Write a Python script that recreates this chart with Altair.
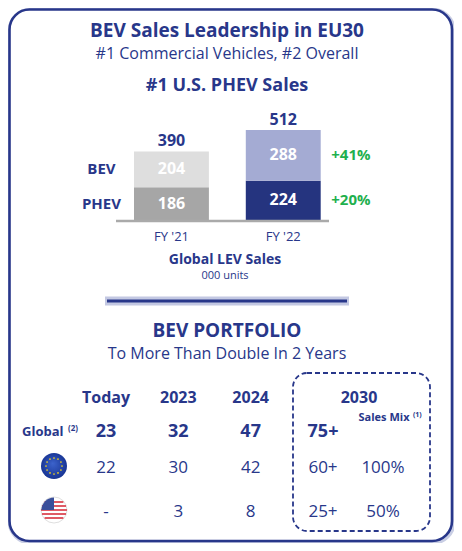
import altair as alt
import numpy as np
import pandas as pd

NAVY = "#28378a"
GREEN = "#1fb04e"
GRAY = "#a6a6a6"
FONT = "Open Sans"

# ---- data ----
years = ["FY '21", "FY '22"]
phev = [186, 224]
bev = [204, 288]
totals = [390, 512]

cols = ["Today", "2023", "2024", "2030"]
global_row = ["23", "32", "47", "75+"]
eu_row = ["22", "30", "42", "60+"]
us_row = ["-", "3", "8", "25+"]
mix_eu = "100%"
mix_us = "50%"

title = "BEV Sales Leadership in EU30"
subtitle = "#1 Commercial Vehicles, #2 Overall"
headline = "#1 U.S. PHEV Sales"
bar_title = "Global LEV Sales"
bar_units = "000 units"
port_title = "BEV PORTFOLIO"
port_sub = "To More Than Double In 2 Years"

ONE = pd.DataFrame({"k": [0]})

bar_df = pd.DataFrame({
    "year": years * 2,
    "type": ["PHEV"] * 2 + ["BEV"] * 2,
    "value": phev + bev,
    "order": [0, 0, 1, 1],
})
bar_df["key"] = bar_df["year"] + " " + bar_df["type"]
growth = {"PHEV": phev[1] / phev[0] - 1, "BEV": bev[1] / bev[0] - 1}
bar_df["growth"] = bar_df["type"].map(lambda t: f"+{round(growth[t] * 100)}%")
tot_df = pd.DataFrame({"year": years, "total": totals})

xb = alt.Scale(type="band", domain=years, range=[126, 312.7], paddingInner=0.33, paddingOuter=0)
yb = alt.Scale(domain=[0, 512], range=[212, 122], nice=False)
color_keys = ["FY '21 PHEV", "FY '21 BEV", "FY '22 PHEV", "FY '22 BEV"]
color_vals = ["#a6a6a6", "#dedede", "#25347f", "#a4abd3"]


def xyear():
    return alt.X("year:N", scale=xb, axis=None, bandPosition=0.5)


def label(text, x, y, size, bold=False, color=NAVY, align="center"):
    return alt.Chart(ONE).mark_text(
        text=text, font=FONT, fontSize=size,
        fontWeight="bold" if bold else "normal",
        color=color, align=align, baseline="middle",
    ).encode(x=alt.value(x), y=alt.value(y))


# frame
glow = alt.Chart(ONE).mark_rect(
    cornerRadius=21, fillOpacity=0, stroke="#c9cee4", strokeWidth=6
).encode(x=alt.value(2.5), x2=alt.value(445), y=alt.value(2.5), y2=alt.value(534))
frame = alt.Chart(ONE).mark_rect(
    cornerRadius=20, fill="white", stroke=NAVY, strokeWidth=2.6
).encode(x=alt.value(1.5), x2=alt.value(444), y=alt.value(1.5), y2=alt.value(533))

# stacked bars
stacked = alt.Chart(bar_df).transform_stack(
    stack="value", groupby=["year"], as_=["v0", "v1"], sort=[alt.SortField("order")]
).transform_calculate(mid="(datum.v0 + datum.v1) / 2")

bars = stacked.mark_bar().encode(
    x=alt.X("year:N", scale=xb, axis=None),
    y=alt.Y("v0:Q", scale=yb, axis=None),
    y2="v1:Q",
    color=alt.Color("key:N", scale=alt.Scale(domain=color_keys, range=color_vals), legend=None),
)
seg_text = stacked.mark_text(
    font=FONT, fontSize=16, fontWeight="bold", color="white", baseline="middle"
).encode(
    x=xyear(),
    y=alt.Y("mid:Q", scale=yb, axis=None),
    text="value:Q",
)
row_names = stacked.transform_filter(f"datum.year == \"{years[0]}\"").mark_text(
    font=FONT, fontSize=15, fontWeight="bold", color=NAVY, baseline="middle", dx=-70
).encode(
    x=xyear(),
    y=alt.Y("mid:Q", scale=yb, axis=None),
    text="type:N",
)
growth_text = stacked.transform_filter(f"datum.year == \"{years[1]}\"").mark_text(
    font=FONT, fontSize=15, fontWeight="bold", color=GREEN, baseline="middle",
    align="left", dx=48,
).encode(
    x=xyear(),
    y=alt.Y("mid:Q", scale=yb, axis=None),
    text="growth:N",
)
tot_text = alt.Chart(tot_df).mark_text(
    font=FONT, fontSize=16, fontWeight="bold", color=NAVY, baseline="middle", dy=-10
).encode(
    x=xyear(),
    y=alt.Y("total:Q", scale=yb, axis=None),
    text="total:Q",
)
year_text = alt.Chart(tot_df).mark_text(
    font=FONT, fontSize=13, color=NAVY, baseline="middle"
).encode(
    x=xyear(),
    y=alt.value(229),
    text="year:N",
)
baseline = alt.Chart(ONE).mark_rule(color="#aaaaaa", strokeWidth=2.5).encode(
    x=alt.value(108), x2=alt.value(321), y=alt.value(213)
)

# separator
sep_glow = alt.Chart(ONE).mark_rule(color="#c3c8e2", strokeWidth=9).encode(
    x=alt.value(97), x2=alt.value(341), y=alt.value(293)
)
sep = alt.Chart(ONE).mark_rule(color=NAVY, strokeWidth=3).encode(
    x=alt.value(99), x2=alt.value(339), y=alt.value(293)
)

# portfolio table
xc = alt.Scale(type="point", domain=cols, range=[98, 315], padding=0)


def table_row(values, y, size, bold):
    df = pd.DataFrame({"col": cols, "val": values})
    return alt.Chart(df).mark_text(
        font=FONT, fontSize=size, fontWeight="bold" if bold else "normal",
        color=NAVY, baseline="middle",
    ).encode(x=alt.X("col:N", scale=xc, axis=None), y=alt.value(y), text="val:N")


head_df = pd.DataFrame({"col": cols[:3]})
headers = alt.Chart(head_df).mark_text(
    font=FONT, fontSize=16, fontWeight="bold", color=NAVY, baseline="middle"
).encode(x=alt.X("col:N", scale=xc, axis=None), y=alt.value(390), text="col:N")

dash_box = alt.Chart(ONE).mark_rect(
    cornerRadius=14, fillOpacity=0, stroke=NAVY, strokeWidth=1.8, strokeDash=[5, 3]
).encode(x=alt.value(285), x2=alt.value(422), y=alt.value(365), y2=alt.value(523))

# flags
r = 13
eu_c = (46, 458)
us_c = (46, 502)
eu_disc = alt.Chart(ONE).mark_circle(
    size=(2 * r) ** 2, opacity=1,
    color=alt.RadialGradient(
        gradient="radial", x1=0.45, y1=0.4, x2=0.5, y2=0.5, r1=0, r2=0.55,
        stops=[alt.GradientStop(offset=0, color="#3c63cc"),
               alt.GradientStop(offset=1, color="#15318f")],
    ),
).encode(x=alt.value(eu_c[0]), y=alt.value(eu_c[1]))
ang = np.arange(12) * np.pi / 6
stars_df = pd.DataFrame({"x": eu_c[0] + 8 * np.cos(ang), "y": eu_c[1] + 8 * np.sin(ang)})
eu_stars = alt.Chart(stars_df).mark_circle(size=3, color="#f3d31c", opacity=1).encode(
    x=alt.X("x:Q", scale=None), y=alt.Y("y:Q", scale=None)
)
us_disc = alt.Chart(ONE).mark_circle(
    size=(2 * r) ** 2, color="white", opacity=1, stroke="#d5d5d5", strokeWidth=0.8
).encode(x=alt.value(us_c[0]), y=alt.value(us_c[1]))
dys = -r + 1 + 2 * np.arange(0, 13, 2)
half = np.sqrt(np.clip(r ** 2 - (np.abs(dys) + 1) ** 2, 0, None))
stripes_df = pd.DataFrame({"x": us_c[0] - half, "x2": us_c[0] + half, "y": us_c[1] + dys})
us_stripes = alt.Chart(stripes_df).mark_rule(color="#d8313f", strokeWidth=1.6).encode(
    x=alt.X("x:Q", scale=None), x2="x2:Q", y=alt.Y("y:Q", scale=None)
)
us_canton = alt.Chart(ONE).mark_arc(
    theta=3 * np.pi / 2, theta2=2 * np.pi, radius=r - 0.5, color="#3a4f9a"
).encode(x=alt.value(us_c[0]), y=alt.value(us_c[1]))

layers = [
    glow, frame,
    label(title, 219, 23, 19, bold=True),
    label(subtitle, 219, 46, 16),
    label(headline, 219, 78, 18, bold=True),
    bars, baseline, seg_text, row_names, growth_text, tot_text, year_text,
    label(bar_title, 217, 252, 14, bold=True),
    label(bar_units, 217, 268, 11),
    sep_glow, sep,
    label(port_title, 219, 323, 19, bold=True),
    label(port_sub, 219, 346, 16),
    dash_box,
    headers,
    label(cols[3], 351, 390, 16, bold=True),
    label("Sales Mix", 376, 410, 11, bold=True),
    label("(1)", 405, 407, 7, bold=True, align="left"),
    label("Global", 14, 424, 13, bold=True, align="left"),
    label("(2)", 60, 421, 8, bold=True, align="left"),
    table_row(global_row, 424, 18, True),
    table_row(eu_row, 460, 17, False),
    table_row(us_row, 504, 17, False),
    label(mix_eu, 375, 460, 17),
    label(mix_us, 375, 504, 17),
    eu_disc, eu_stars, us_disc, us_stripes, us_canton,
]

chart = alt.layer(*layers).resolve_scale(
    x="independent", y="independent", color="independent"
).properties(
    width=446, height=535, padding=0, autosize="none"
).configure_view(strokeWidth=0)

chart.save("out.html", embed_options={"renderer": "svg", "actions": False})
